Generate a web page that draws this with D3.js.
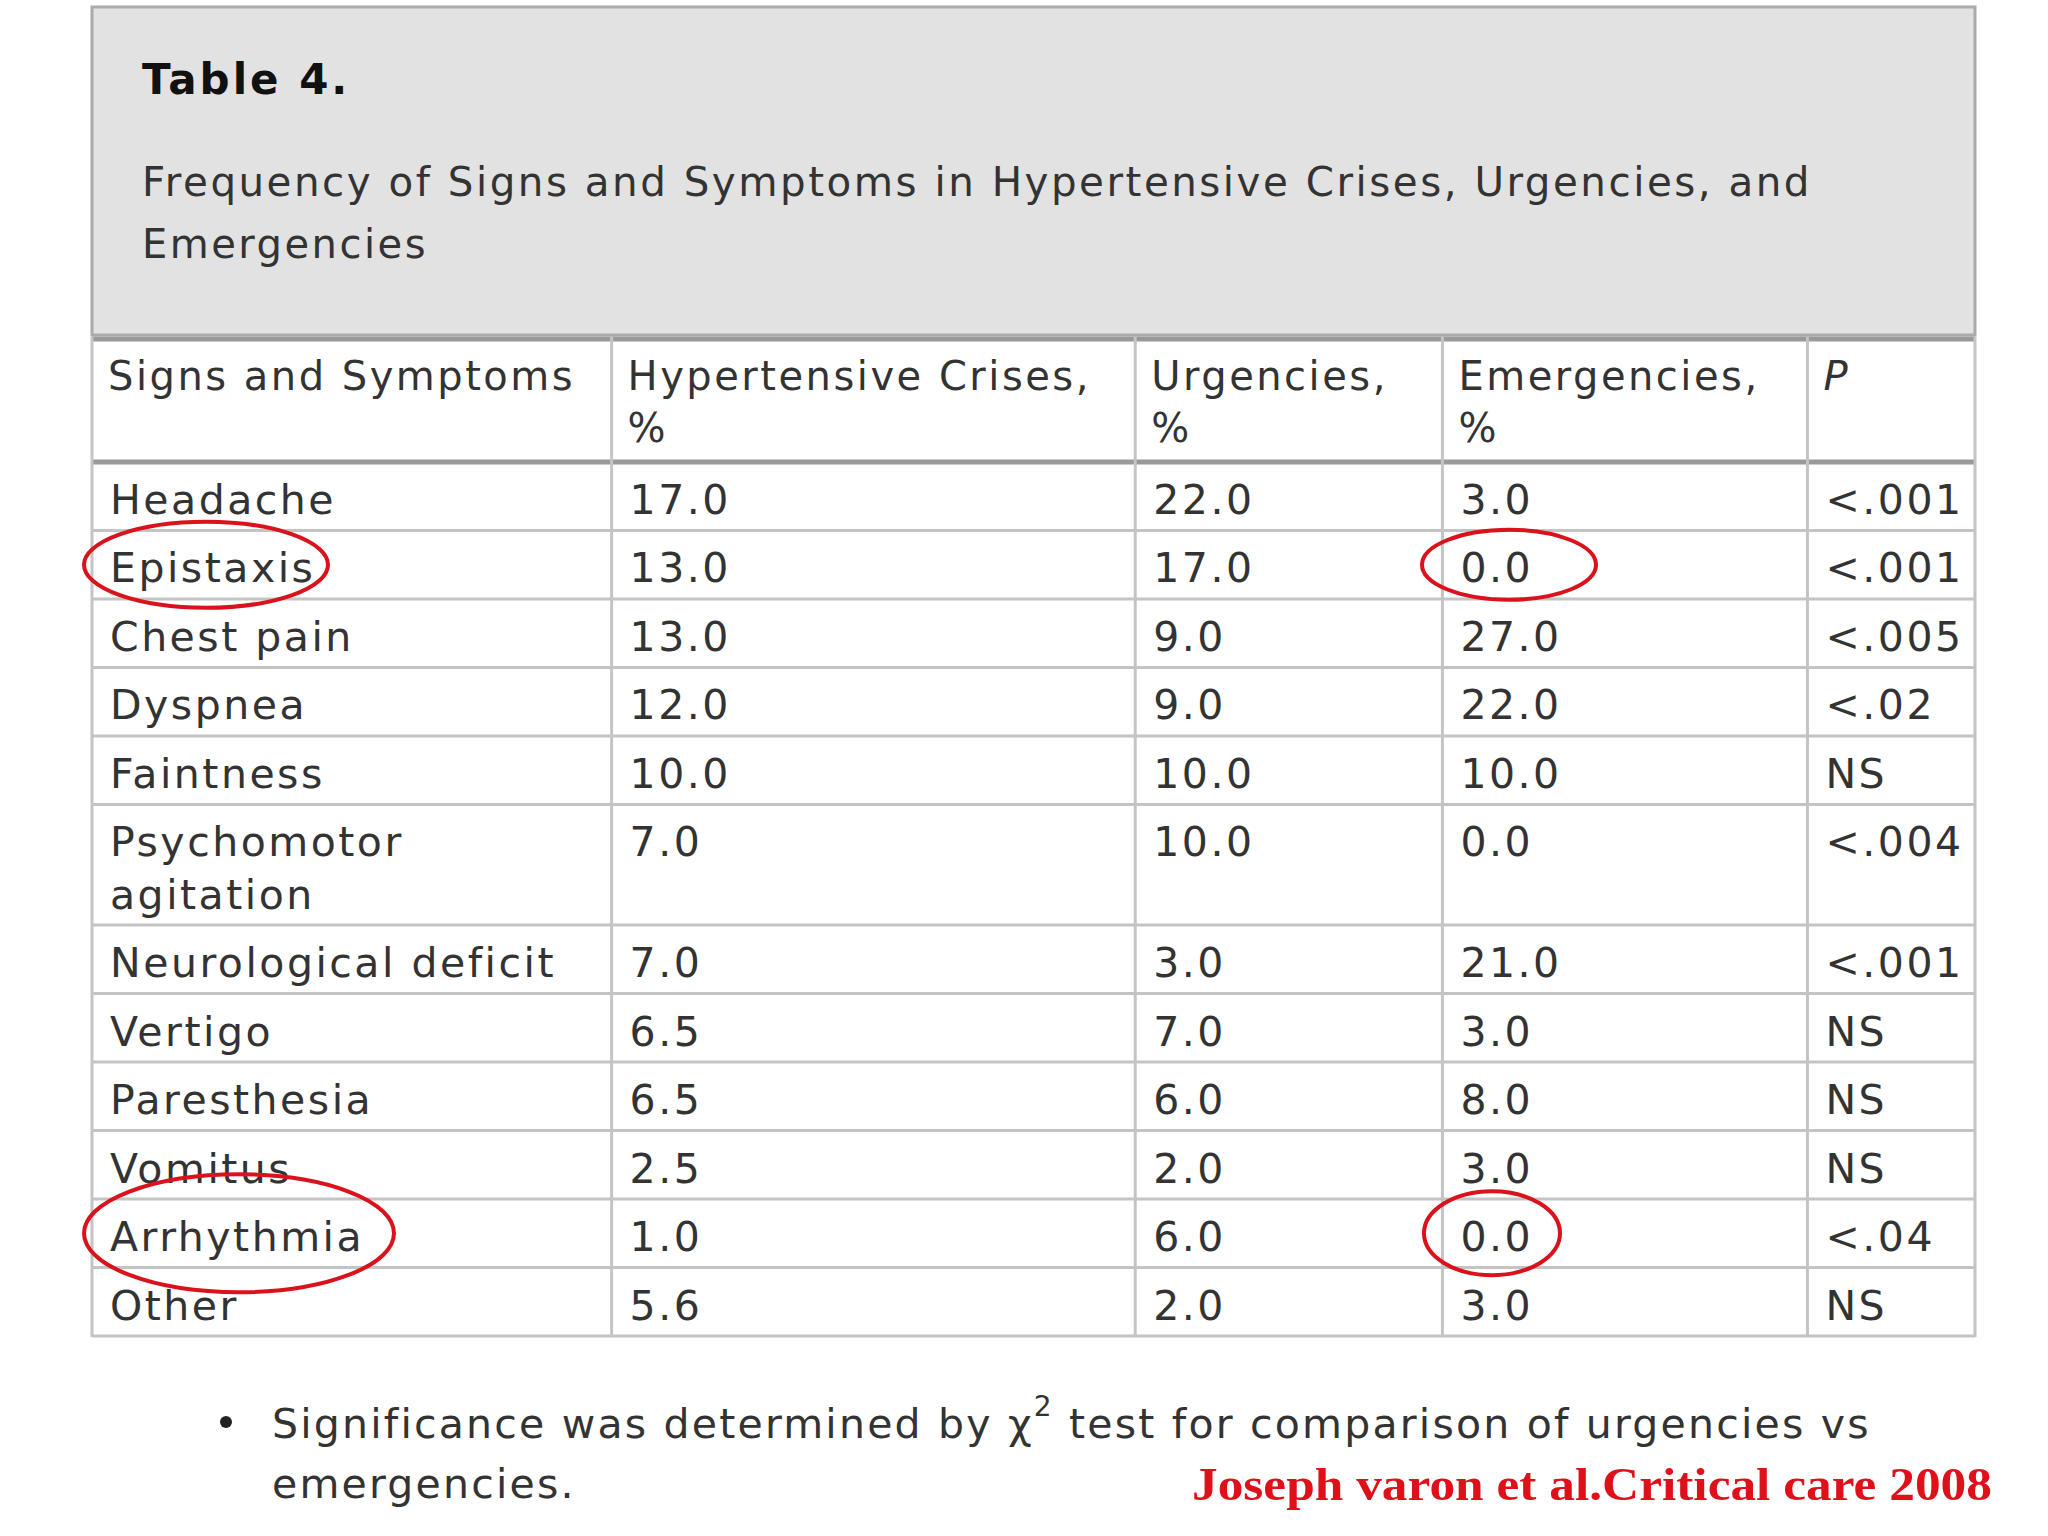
<!DOCTYPE html>
<html><head><meta charset="utf-8">
<script src="https://cdn.jsdelivr.net/npm/d3@7"></script>
<style>body{margin:0;background:#fff}svg{display:block}</style>
</head><body>
<script>
const title = "Table 4.";
const subtitle = ["Frequency of Signs and Symptoms in Hypertensive Crises, Urgencies, and", "Emergencies"];
const headers = [["Signs and Symptoms"], ["Hypertensive Crises,", "%"], ["Urgencies,", "%"], ["Emergencies,", "%"], ["P"]];
const symptoms = [["Headache"], ["Epistaxis"], ["Chest pain"], ["Dyspnea"], ["Faintness"], ["Psychomotor", "agitation"], ["Neurological deficit"], ["Vertigo"], ["Paresthesia"], ["Vomitus"], ["Arrhythmia"], ["Other"]];
const crises = ["17.0", "13.0", "13.0", "12.0", "10.0", "7.0", "7.0", "6.5", "6.5", "2.5", "1.0", "5.6"];
const urgencies = ["22.0", "17.0", "9.0", "9.0", "10.0", "10.0", "3.0", "7.0", "6.0", "2.0", "6.0", "2.0"];
const emergencies = ["3.0", "0.0", "27.0", "22.0", "10.0", "0.0", "21.0", "3.0", "8.0", "3.0", "0.0", "3.0"];
const pvalues = ["<.001", "<.001", "<.005", "<.02", "NS", "<.004", "<.001", "NS", "NS", "NS", "<.04", "NS"];
const circled = [[1, 0], [1, 3], [10, 0], [10, 3]];
const footnote = ["Significance was determined by \u03C7", " test for comparison of urgencies vs", "emergencies."];
const citation = "Joseph varon et al.Critical care 2008";

const W = 2048, H = 1536;
const svg = d3.select("body").append("svg").attr("width", W).attr("height", H);
const font = "'DejaVu Sans', sans-serif";

const colEdges = [0, 613 - 92, 1138 - 92, 1446 - 92, 1812 - 92, 1980 - 92];
const x = d3.scaleLinear().domain([0, 1888]).range([92, 1975]);
const rowUnits = symptoms.map(s => s.length > 1 ? 1.76 : 1);
const cum = [0]; rowUnits.forEach(u => cum.push(cum[cum.length - 1] + u));
const y = d3.scaleLinear().domain([0, cum[cum.length - 1]]).range([462, 1336]);

svg.append("rect").attr("x", 92).attr("y", 7).attr("width", 1883).attr("height", 328)
  .attr("fill", "#e2e2e2").attr("stroke", "#aaa").attr("stroke-width", 3);
svg.append("text").attr("x", 142).attr("y", 94).text(title)
  .attr("font-family", font).attr("font-weight", "bold").attr("font-size", 42).attr("letter-spacing", 3).attr("fill", "#111");
subtitle.forEach((t, i) => {
  const tx = svg.append("text").attr("x", 142).attr("y", 196 + i * 62).text(t)
    .attr("font-family", font).attr("font-size", 40).attr("fill", "#333").attr("letter-spacing", 2.5);
  if (i === 0) tx.attr("textLength", 1670).attr("lengthAdjust", "spacingAndGlyphs");
});

svg.append("rect").attr("x", 92).attr("y", 337).attr("width", 1883).attr("height", 1000).attr("fill", "#fff");

const g = svg.append("g");
cum.forEach((c, i) => {
  g.append("line").attr("x1", 92).attr("x2", 1975).attr("y1", y(c)).attr("y2", y(c))
    .attr("stroke", i === 0 ? "#999" : "#c4c4c4").attr("stroke-width", i === 0 ? 5 : 3);
});
g.append("line").attr("x1", 92).attr("x2", 1975).attr("y1", 339).attr("y2", 339).attr("stroke", "#999").attr("stroke-width", 5);
colEdges.forEach(c => {
  g.append("line").attr("x1", x(c)).attr("x2", x(c)).attr("y1", 337).attr("y2", 1337)
    .attr("stroke", "#c4c4c4").attr("stroke-width", 3);
});

headers.forEach((h, j) => {
  h.forEach((t, k) => {
    g.append("text").attr("x", x(colEdges[j]) + 16).attr("y", 390 + k * 52).text(t)
      .attr("font-family", font).attr("font-size", 40).attr("letter-spacing", 2.5).attr("fill", "#333")
      .attr("font-style", t === "P" ? "italic" : null);
  });
});

const cols = [symptoms, crises, urgencies, emergencies, pvalues];
cols.forEach((col, j) => {
  col.forEach((v, i) => {
    const lines = Array.isArray(v) ? v : [v];
    lines.forEach((t, k) => {
      g.append("text").attr("x", x(colEdges[j]) + 18).attr("y", y(cum[i]) + 52 + k * 53).text(t)
        .attr("font-family", font).attr("font-size", 41).attr("letter-spacing", 2.5).attr("fill", "#333");
    });
  });
});

const ellSize = {"1,0": [122, 43, 206], "1,3": [87, 35, 1509], "10,0": [155, 59, 239], "10,3": [68, 42, 1492]};
circled.forEach(([r, c]) => {
  const [rx, ry, cx] = ellSize[r + "," + c];
  svg.append("ellipse").attr("cx", cx).attr("cy", (y(cum[r]) + y(cum[r + 1])) / 2)
    .attr("rx", rx).attr("ry", ry).attr("fill", "none").attr("stroke", "#d9121b").attr("stroke-width", 4);
});

svg.append("circle").attr("cx", 226).attr("cy", 1422).attr("r", 6).attr("fill", "#222");
const ft = svg.append("text").attr("x", 272).attr("y", 1438)
  .attr("font-family", font).attr("font-size", 41).attr("letter-spacing", 2.2).attr("fill", "#333");
ft.append("tspan").text(footnote[0]);
ft.append("tspan").text("2").attr("font-size", 28).attr("dy", -22);
ft.append("tspan").text(footnote[1]).attr("dy", 22);
svg.append("text").attr("x", 272).attr("y", 1498).text(footnote[2])
  .attr("font-family", font).attr("font-size", 41).attr("letter-spacing", 2.2).attr("fill", "#333");

svg.append("text").attr("x", 1192).attr("y", 1500).text(citation)
  .attr("font-family", "'Liberation Serif', serif").attr("font-weight", "bold").attr("font-size", 47)
  .attr("fill", "#e0101a").attr("textLength", 800).attr("lengthAdjust", "spacingAndGlyphs");
</script>
</body></html>
